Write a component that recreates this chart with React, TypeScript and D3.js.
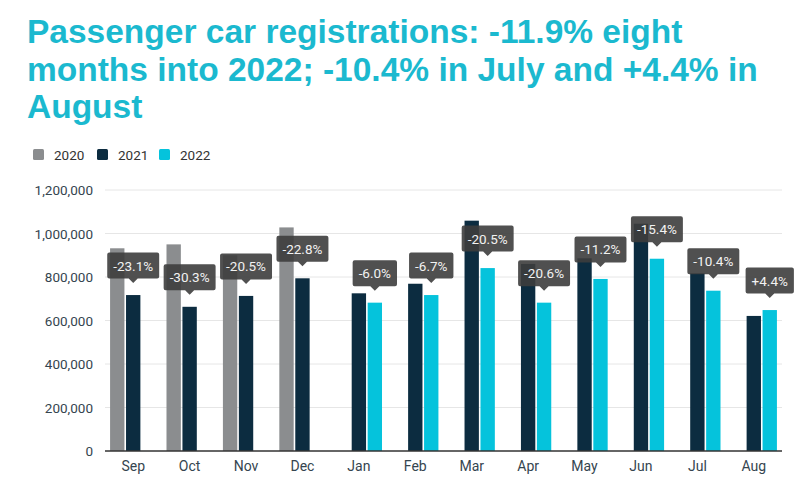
import { useEffect, useRef } from 'react'
import * as d3 from 'd3'

const MONTHS = ['Sep', 'Oct', 'Nov', 'Dec', 'Jan', 'Feb', 'Mar', 'Apr', 'May', 'Jun', 'Jul', 'Aug']
const SERIES = ['2020', '2021', '2022']
const VALUES_2020 = [932000, 950000, 900000, 1028000, null, null, null, null, null, null, null, null]
const VALUES_2021 = [717000, 663000, 713000, 794000, 725000, 769000, 1059000, 860000, 886000, 1045000, 817000, 621000]
const VALUES_2022 = [null, null, null, null, 682000, 717000, 841000, 682000, 791000, 884000, 737000, 648000]
const CHANGES = ['-23.1%', '-30.3%', '-20.5%', '-22.8%', '-6.0%', '-6.7%', '-20.5%', '-20.6%', '-11.2%', '-15.4%', '-10.4%', '+4.4%']
const Y_TICKS = [0, 200000, 400000, 600000, 800000, 1000000, 1200000]
const TITLE_LINES = [
  'Passenger car registrations: -11.9% eight',
  'months into 2022; -10.4% in July and +4.4% in',
  'August',
]

const COLORS: Record<string, string> = {
  '2020': '#8b8d8f',
  '2021': '#0c2c40',
  '2022': '#05c3dc',
}

export default function App() {
  const svgRef = useRef<SVGSVGElement>(null)

  useEffect(() => {
    if (!svgRef.current) return
    const width = 800
    const height = 481
    const margin = { top: 190, right: 18, bottom: 30, left: 105 }

    const svg = d3.select(svgRef.current)
    svg.selectAll('*').remove()
    svg.append('rect').attr('width', width).attr('height', height).attr('fill', '#ffffff')

    // Title
    const title = svg.append('text')
      .attr('font-family', '"Liberation Sans", Arial, sans-serif')
      .attr('font-weight', 'bold')
      .attr('font-size', '33.5px')
      .attr('fill', '#1bb9cf')
    TITLE_LINES.forEach((line, i) => {
      title.append('tspan').attr('x', 27).attr('y', 43 + i * 37.5).text(line)
    })

    // Legend
    const legend = svg.append('g').attr('font-family', 'Roboto, sans-serif').attr('font-size', '13.5px')
    const legendX = [33, 97, 159]
    SERIES.forEach((s, i) => {
      legend.append('rect')
        .attr('x', legendX[i]).attr('y', 149)
        .attr('width', 11).attr('height', 11).attr('rx', 1.5)
        .attr('fill', COLORS[s])
      legend.append('text')
        .attr('x', legendX[i] + 21).attr('y', 159.5)
        .attr('fill', '#333')
        .text(s)
    })

    const y = d3.scaleLinear()
      .domain([0, 1200000])
      .range([height - margin.bottom, margin.top])

    const x = d3.scaleBand<string>()
      .domain(MONTHS)
      .range([margin.left, width - margin.right])
      .paddingInner(0.18)
      .paddingOuter(0.09)

    const xs = d3.scaleBand<string>()
      .domain(SERIES)
      .range([0, x.bandwidth()])
      .paddingInner(0.1)

    // Gridlines + y labels
    const grid = svg.append('g')
    Y_TICKS.forEach((t) => {
      if (t > 0) {
        grid.append('line')
          .attr('x1', margin.left).attr('x2', width - margin.right)
          .attr('y1', y(t)).attr('y2', y(t))
          .attr('stroke', '#e6e6e6').attr('stroke-width', 1)
      }
      grid.append('text')
        .attr('x', 93).attr('y', y(t) + 5)
        .attr('text-anchor', 'end')
        .attr('font-family', 'Roboto, sans-serif')
        .attr('font-size', '13.5px')
        .attr('fill', '#35454f')
        .text(d3.format(',')(t))
    })

    // Bars
    const seriesValues: Record<string, Array<number | null>> = {
      '2020': VALUES_2020,
      '2021': VALUES_2021,
      '2022': VALUES_2022,
    }
    const bars = svg.append('g')
    SERIES.forEach((s) => {
      MONTHS.forEach((m, i) => {
        const v = seriesValues[s][i]
        if (v == null) return
        bars.append('rect')
          .attr('x', (x(m) as number) + (xs(s) as number))
          .attr('y', y(v))
          .attr('width', xs.bandwidth())
          .attr('height', y(0) - y(v))
          .attr('fill', COLORS[s])
      })
    })

    // Baseline
    svg.append('line')
      .attr('x1', margin.left).attr('x2', width - margin.right)
      .attr('y1', y(0)).attr('y2', y(0))
      .attr('stroke', '#333').attr('stroke-width', 1.5)

    // Month labels
    MONTHS.forEach((m) => {
      svg.append('text')
        .attr('x', (x(m) as number) + x.bandwidth() / 2)
        .attr('y', 471)
        .attr('text-anchor', 'middle')
        .attr('font-family', 'Roboto, sans-serif')
        .attr('font-size', '14px')
        .attr('fill', '#35454f')
        .text(m)
    })

    // Change callouts, anchored to the latest bar of each month
    const callouts = svg.append('g')
    MONTHS.forEach((m, i) => {
      const s = VALUES_2022[i] != null ? '2022' : '2021'
      const v = seriesValues[s][i] as number
      const cx = (x(m) as number) + (xs(s) as number) + xs.bandwidth() / 2
      const tipY = y(v) - 12
      const boxH = 26
      const boxBottom = tipY - 4.5
      const g = callouts.append('g')
      const label = g.append('text')
        .attr('x', cx).attr('y', boxBottom - boxH / 2 + 5)
        .attr('text-anchor', 'middle')
        .attr('font-family', 'Roboto, sans-serif')
        .attr('font-size', '13.5px')
        .attr('fill', '#f2f2f2')
        .text(CHANGES[i])
      const w = (label.node() as SVGTextElement).getComputedTextLength() + 12
      g.insert('path', 'text')
        .attr('d', `M${cx - w / 2 + 2},${boxBottom - boxH} h${w - 4} q2,0 2,2 v${boxH - 4} q0,2 -2,2 H${cx + 4.5} L${cx},${tipY} L${cx - 4.5},${boxBottom} H${cx - w / 2 + 2} q-2,0 -2,-2 v${-(boxH - 4)} q0,-2 2,-2 Z`)
        .attr('fill', '#3d3d3d')
        .attr('fill-opacity', 0.9)
    })
  }, [])

  return (
    <svg
      ref={svgRef}
      width={800}
      height={481}
      style={{ position: 'absolute', left: 0, top: 0 }}
    />
  )
}
